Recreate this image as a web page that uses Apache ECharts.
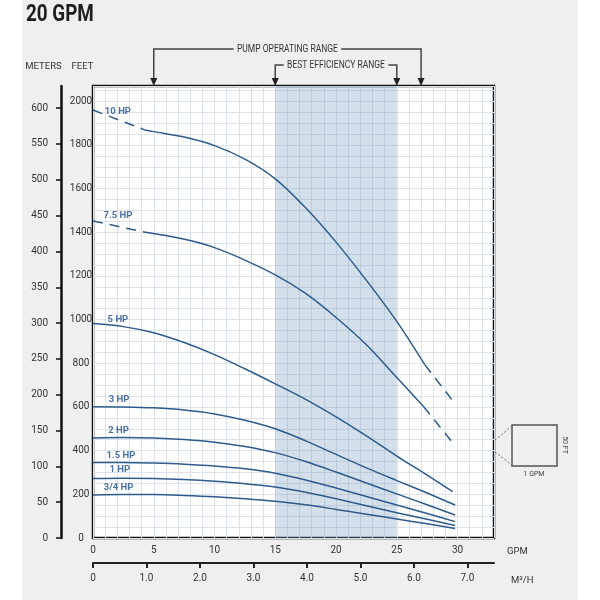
<!DOCTYPE html>
<html><head><meta charset="utf-8">
<script src="https://cdn.jsdelivr.net/npm/echarts@6/dist/echarts.min.js"></script>
<style>html,body{margin:0;padding:0;background:#fff}#c{width:600px;height:600px}</style>
</head><body><div id="c"></div>
<script>
const FONT = 'Roboto, "Liberation Sans", sans-serif';

// ---- data ----
const chartTitle = '20 GPM';
const curveNames = ['10 HP', '7.5 HP', '5 HP', '3 HP', '2 HP', '1.5 HP', '1 HP', '3/4 HP'];

const hp10Gpm = [4.3, 5, 7.5, 10, 12.5, 15, 17.5, 20, 22.5, 25, 27.3];
const hp10Ft  = [1868, 1861, 1836, 1797, 1735, 1645, 1512, 1355, 1180, 992, 794];
const hp10DashLeftGpm = [0, 4.3];
const hp10DashLeftFt = [1960, 1868];
const hp10DashRightGpm = [27.3, 29.8];
const hp10DashRightFt = [794, 615];

const hp75Gpm = [4.3, 6, 8, 10, 12, 15, 17.5, 20, 22.5, 25, 27.2];
const hp75Ft  = [1400, 1385, 1362, 1330, 1285, 1205, 1120, 1010, 885, 735, 602];
const hp75DashLeftGpm = [0, 4.3];
const hp75DashLeftFt = [1452, 1400];
const hp75DashRightGpm = [27.2, 29.8];
const hp75DashRightFt = [602, 422];

const hp5Gpm = [0, 2.5, 5, 7.5, 10, 12.5, 15, 17.5, 20, 22.5, 25, 27.5, 29.6];
const hp5Ft  = [982, 968, 940, 895, 840, 775, 706, 635, 555, 468, 375, 288, 212];

const lowGpm = [0, 2.5, 5, 7.5, 10, 12.5, 15, 17.5, 20, 22.5, 25, 27.5, 29.8];
const hp3Ft  = [601, 600, 596, 586, 568, 539, 500, 445, 383, 321, 263, 206, 151];
const hp2Ft  = [458, 460, 458, 451, 439, 419, 391, 350, 302, 252, 202, 152, 105];
const hp15Ft = [346, 346, 343, 338, 330, 317, 297, 266, 229, 190, 151, 112, 75];
const hp1Ft  = [272, 274, 273, 268, 260, 249, 234, 210, 180, 148, 116, 86, 57];
const hp34Ft = [197, 199, 199, 195, 189, 180, 168, 152, 131, 109, 87, 65, 44];

const labelGpm = [2.05, 2.05, 2.05, 2.15, 2.1, 2.3, 2.2, 2.1];
const labelFt  = [1954, 1475, 1000, 635, 492, 376, 312, 229];

const bestRange = [15, 25];
const pumpRange = [5, 27];
const gpmTickStep = 5;
const feetLabelStep = 200;
const meterTicks = [0, 50, 100, 150, 200, 250, 300, 350, 400, 450, 500, 550, 600];
const m3hTicks = [0, 1, 2, 3, 4, 5, 6, 7];

const GPM_MAX = 33, FT_MAX = 2070;
const FT_PER_M = 3.28084, GPM_PER_M3H = 4.40287;
// ---- end data ----

const zip = (xs, ys) => xs.map((x, i) => [x, ys[i]]);
const LINE = '#2d5b8c';
const GRIDC = '#dde3ea';

function curve(name, xs, ys, dashed) {
  return {
    type: 'line', name: name, data: zip(xs, ys), smooth: dashed ? false : 0.3,
    symbol: 'none', silent: true,
    lineStyle: { color: LINE, width: 1.5, type: dashed ? [10, 7] : 'solid' },
    z: 3
  };
}

const series = [
  Object.assign(curve('3/4 HP', lowGpm, hp34Ft), {
    markArea: { silent: true, itemStyle: { color: 'rgba(110,150,190,0.3)' },
      data: [[{ xAxis: bestRange[0] }, { xAxis: bestRange[1] }]] }
  }),
  curve('1 HP', lowGpm, hp1Ft),
  curve('1.5 HP', lowGpm, hp15Ft),
  curve('2 HP', lowGpm, hp2Ft),
  curve('3 HP', lowGpm, hp3Ft),
  curve('5 HP', hp5Gpm, hp5Ft),
  curve('7.5 HP', hp75Gpm, hp75Ft),
  curve('7.5 HP a', hp75DashLeftGpm, hp75DashLeftFt, true),
  curve('7.5 HP b', hp75DashRightGpm, hp75DashRightFt, true),
  curve('10 HP', hp10Gpm, hp10Ft),
  curve('10 HP a', hp10DashLeftGpm, hp10DashLeftFt, true),
  curve('10 HP b', hp10DashRightGpm, hp10DashRightFt, true),
  {
    type: 'scatter', silent: true, symbolSize: 0, z: 4,
    data: curveNames.map((n, i) => ({ name: n, value: [labelGpm[i], labelFt[i]] })),
    label: { show: true, position: 'inside', formatter: '{b}', color: '#1f4e8c',
      fontWeight: 'bold', fontSize: 9.5, fontFamily: FONT }
  }
];

const lblStyle = { fontSize: 10, color: '#333', fontFamily: FONT };

const chart = echarts.init(document.getElementById('c'), null, { renderer: 'canvas' });
chart.setOption({
  animation: false,
  backgroundColor: '#efefef',
  grid: { left: 93, right: 106, top: 86, bottom: 62, show: true, backgroundColor: '#fff',
    borderColor: '#111', borderWidth: 2.5, containLabel: false, outerBoundsMode: 'none' },
  xAxis: [
    { type: 'value', min: 0, max: GPM_MAX, interval: 1, position: 'bottom',
      axisLine: { show: false }, axisTick: { show: false },
      splitLine: { show: true, lineStyle: { color: GRIDC, width: 1 } },
      axisLabel: Object.assign({ margin: 7, formatter: v => (v % gpmTickStep === 0 ? String(v) : '') }, lblStyle),
      name: 'GPM', nameLocation: 'end', nameGap: 13,
      nameTextStyle: { fontSize: 9.5, color: '#333', fontFamily: FONT, align: 'left', verticalAlign: 'top', padding: [9, 0, 0, 0] } },
    { type: 'value', min: 0, max: GPM_MAX / GPM_PER_M3H, position: 'bottom', offset: 25,
      axisLine: { show: true, onZero: false, lineStyle: { color: '#222', width: 2 } },
      axisTick: { show: true, customValues: m3hTicks, length: 5, lineStyle: { color: '#222', width: 2 } },
      splitLine: { show: false },
      axisLabel: Object.assign({ margin: 10, customValues: m3hTicks, formatter: v => (v === 0 ? '0' : v.toFixed(1)) }, lblStyle),
      name: 'M³/H', nameLocation: 'end', nameGap: 17,
      nameTextStyle: { fontSize: 9.5, color: '#333', fontFamily: FONT, align: 'left', verticalAlign: 'top', padding: [13, 0, 0, 0] } }
  ],
  yAxis: [
    { type: 'value', min: 0, max: FT_MAX, interval: 50, position: 'left',
      axisLine: { show: false }, axisTick: { show: false },
      splitLine: { show: true, lineStyle: { color: GRIDC, width: 1 } },
      axisLabel: Object.assign({ margin: 12, align: 'center', formatter: v => (v % feetLabelStep === 0 ? String(v) : '') }, lblStyle),
      name: 'FEET', nameLocation: 'end', nameGap: 14,
      nameTextStyle: { fontSize: 9.5, color: '#333', fontFamily: FONT, padding: [0, 21, 0, 0] } },
    { type: 'value', min: 0, max: FT_MAX / FT_PER_M, position: 'left', offset: 32,
      axisLine: { show: true, onZero: false, lineStyle: { color: '#111', width: 2.5 } },
      axisTick: { show: true, customValues: meterTicks, length: 5, lineStyle: { color: '#111', width: 1.5 } },
      splitLine: { show: false },
      axisLabel: Object.assign({ margin: 13, customValues: meterTicks }, lblStyle),
      name: 'METERS', nameLocation: 'end', nameGap: 14,
      nameTextStyle: { fontSize: 9.5, color: '#333', fontFamily: FONT, padding: [0, 35, 0, 0] } }
  ],
  series: series
});

// annotations computed from data positions
const px = v => chart.convertToPixel({ xAxisIndex: 0 }, v);
const topY = chart.convertToPixel({ yAxisIndex: 0 }, FT_MAX);
const ANN = '#444';
function bracket(range, y, text) {
  const a = px(range[0]), b = px(range[1]);
  return [
    { type: 'polyline', shape: { points: [[a, topY - 7], [a, y], [b, y], [b, topY - 7]] },
      style: { stroke: ANN, lineWidth: 1.5, fill: null } },
    { type: 'polygon', shape: { points: [[a - 3.5, topY - 8], [a + 3.5, topY - 8], [a, topY]] }, style: { fill: '#222' } },
    { type: 'polygon', shape: { points: [[b - 3.5, topY - 8], [b + 3.5, topY - 8], [b, topY]] }, style: { fill: '#222' } },
    { type: 'text', x: (a + b) / 2, y: y, scaleX: 0.85,
      style: { text: text, fontSize: 10, fontFamily: FONT, fill: '#333', align: 'center', verticalAlign: 'middle',
        backgroundColor: '#efefef', padding: [1, 4] } }
  ];
}
const gx = px(GPM_MAX);
chart.setOption({
  graphic: [].concat(
    [{ type: 'rect', shape: { x: 0, y: 0, width: 22, height: 600 }, style: { fill: '#fff' } },
     { type: 'rect', shape: { x: 578, y: 0, width: 22, height: 600 }, style: { fill: '#fff' } },
     { type: 'text', x: 26, y: 15, scaleX: 0.82,
       style: { text: chartTitle, fontSize: 23, fontWeight: 'bold', fontFamily: FONT, fill: '#1e1e1e',
         align: 'left', verticalAlign: 'middle' } }],
    bracket(pumpRange, 49, 'PUMP OPERATING RANGE'),
    bracket(bestRange, 65, 'BEST EFFICIENCY RANGE'),
    [
      { type: 'rect', shape: { x: gx + 18, y: 425, width: 45, height: 41 },
        style: { stroke: '#555', lineWidth: 1.5, fill: null } },
      { type: 'line', shape: { x1: gx + 1, y1: 440, x2: gx + 18, y2: 426 },
        style: { stroke: '#666', lineWidth: 1, lineDash: [2, 2] } },
      { type: 'line', shape: { x1: gx + 1, y1: 452, x2: gx + 18, y2: 465 },
        style: { stroke: '#666', lineWidth: 1, lineDash: [2, 2] } },
      { type: 'text', x: gx + 40, y: 474,
        style: { text: '1 GPM', fontSize: 7, fontFamily: FONT, fill: '#444', align: 'center', verticalAlign: 'middle' } },
      { type: 'text', x: gx + 71, y: 445, rotation: -Math.PI / 2,
        style: { text: '50 FT', fontSize: 7, fontFamily: FONT, fill: '#444', align: 'center', verticalAlign: 'middle' } }
    ]
  )
});
</script>
</body></html>
